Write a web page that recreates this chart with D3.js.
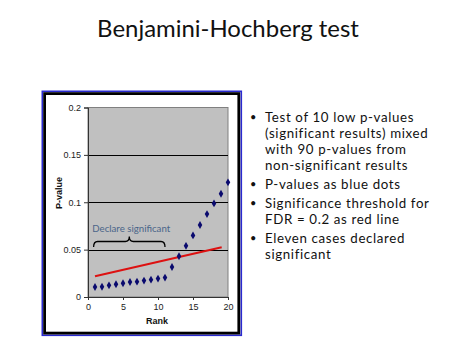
<!DOCTYPE html>
<html><head><meta charset="utf-8">
<script src="https://cdn.jsdelivr.net/npm/d3@7"></script>
<style>body{margin:0;background:#fff}svg{display:block}</style>
</head><body>
<script>
const titleText = "Benjamini-Hochberg test";
const ranks = [1,2,3,4,5,6,7,8,9,10,11,12,13,14,15,16,17,18,19,20];
const pvalues = [0.0106,0.0108,0.0123,0.0134,0.0145,0.0159,0.0162,0.0173,0.0183,0.0194,0.0205,0.0317,0.043,0.054,0.065,0.076,0.0875,0.0988,0.109,0.121];
const thresholdRank = [1, 19.1];
const thresholdP = [0.022, 0.0526];
const xTicks = [0,5,10,15,20];
const yTicks = [0,0.05,0.1,0.15,0.2];
const yTickLabels = ["0","0.05","0.1","0.15","0.2"];
const braceRange = [0.8, 11];
const braceLabel = "Declare significant";
const bullets = [
  ["Test of 10 low p-values","(significant results) mixed","with 90 p-values from","non-significant results"],
  ["P-values as blue dots"],
  ["Significance threshold for","FDR = 0.2 as red line"],
  ["Eleven cases declared","significant"]
];

const W = 474, H = 355;
const FONT = "Lato";
const svg = d3.select("body").append("svg").attr("width", W).attr("height", H);

// title
const title = svg.append("text").attr("x", 228).attr("y", 37.3).attr("text-anchor","middle")
  .style("font-family",FONT).style("font-size","100px").attr("fill","#111").text(titleText);
const tw = title.node().getComputedTextLength();
title.style("font-size", (100*262/tw)+"px");

// frame
svg.append("rect").attr("x",42.3).attr("y",91.3).attr("width",199).attr("height",244).attr("fill","none").attr("stroke","#2a2ad0").attr("stroke-width",1.6);
svg.append("rect").attr("x",44.6).attr("y",93.6).attr("width",194.2).attr("height",239.5).attr("fill","#fff").attr("stroke","#000").attr("stroke-width",2.8);

const x = d3.scaleLinear().domain([0,20]).range([88, 228]);
const y = d3.scaleLinear().domain([0,0.2]).range([297, 107.5]);

// plot area
svg.append("rect").attr("x",x(0)).attr("y",y(0.2)).attr("width",x(20)-x(0)).attr("height",y(0)-y(0.2))
  .attr("fill","#c0c0c0").attr("stroke","#808080").attr("stroke-width",1);

// gridlines
svg.append("g").selectAll("line").data(yTicks.filter(d=>d>0 && d<0.2)).join("line")
  .attr("x1",x(0)).attr("x2",x(20)).attr("y1",d=>Math.round(y(d))+0.5).attr("y2",d=>Math.round(y(d))+0.5)
  .attr("stroke","#000").attr("stroke-width",1);

// axes
const yAxis = d3.axisLeft(y).tickValues(yTicks).tickFormat((d,i)=>yTickLabels[i]).tickSize(4).tickPadding(3);
const gy = svg.append("g").attr("transform",`translate(${x(0)},0)`).call(yAxis);
const xAxis = d3.axisBottom(x).tickValues(xTicks).tickSize(3).tickPadding(4);
const gx = svg.append("g").attr("transform",`translate(0,${y(0)})`).call(xAxis);
[gy,gx].forEach(g=>{
  g.select(".domain").attr("stroke","#333");
  g.selectAll(".tick line").attr("stroke","#333");
  g.selectAll("text").style("font-family","'Liberation Sans'").style("font-size","9px").attr("fill","#222");
});

// axis titles
svg.append("text").attr("x",157).attr("y",324).attr("text-anchor","middle")
  .style("font-family","'Liberation Sans'").style("font-size","9px").style("font-weight","bold").attr("fill","#111").text("Rank");
svg.append("text").attr("transform","translate(62,193) rotate(-90)").attr("text-anchor","middle")
  .style("font-family","'Liberation Sans'").style("font-size","9px").style("font-weight","bold").attr("fill","#111").text("P-value");

// threshold line
svg.append("line").attr("x1",x(thresholdRank[0])).attr("y1",y(thresholdP[0]))
  .attr("x2",x(thresholdRank[1])).attr("y2",y(thresholdP[1]))
  .attr("stroke","#dd1111").attr("stroke-width",2);

// points
svg.append("g").selectAll("path").data(ranks).join("path")
  .attr("transform",(d,i)=>`translate(${x(d)},${y(pvalues[i])})`)
  .attr("d", d3.symbol(d3.symbolDiamond, 18)).attr("fill","#0a0a6e");

// brace annotation
const bx0 = x(braceRange[0]), bx1 = x(braceRange[1]), bm = (bx0+bx1)/2;
const byBot = 247, byMid = 241.5, byTop = 236.5;
const r = 4;
svg.append("path").attr("fill","none").attr("stroke","#000").attr("stroke-width",1.3)
  .attr("d",`M${bx0},${byBot} Q${bx0},${byMid} ${bx0+r},${byMid} L${bm-r},${byMid} Q${bm},${byMid} ${bm},${byTop} Q${bm},${byMid} ${bm+r},${byMid} L${bx1-r},${byMid} Q${bx1},${byMid} ${bx1},${byBot}`);
const bl = svg.append("text").attr("x",92.3).attr("y",232.3)
  .style("font-family",FONT).style("font-size","10px").attr("fill","#4a6589").text(braceLabel);
const blw = bl.node().getComputedTextLength();
bl.style("font-size",(10*78/blw)+"px");

// bullets
const lineStep = 16, bulletGap = 3, FS = 13.3;
let yy = 122;
const tg = svg.append("g");
bullets.forEach(b=>{
  tg.append("text").attr("x",250).attr("y",yy-1).style("font-family",FONT).style("font-size","11px").attr("fill","#111").text("•");
  b.forEach(line=>{
    tg.append("text").attr("class","bl").attr("x",265).attr("y",yy)
      .style("font-family",FONT).style("font-size",FS+"px").attr("fill","#111").text(line);
    yy += lineStep;
  });
  yy += bulletGap;
});
// fit width of the widest line by letter spacing
const ref = tg.selectAll("text.bl").filter(function(){return this.textContent==="(significant results) mixed";}).node();
const rw = ref.getComputedTextLength();
const ls = (163 - rw) / ref.textContent.length;
tg.selectAll("text.bl").style("letter-spacing", ls+"px");
</script>
</body></html>
